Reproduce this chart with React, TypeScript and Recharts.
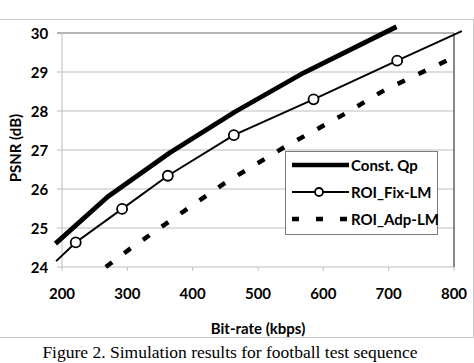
import { LineChart, Line, XAxis, YAxis, ReferenceLine, Legend } from "recharts";

// axis ticks
const X_TICKS = [200, 300, 400, 500, 600, 700, 800];
const Y_TICKS = [24, 25, 26, 27, 28, 29, 30];

// Const. Qp (thick solid line)
const QP_RATE = [190, 270, 365, 465, 570, 712];
const QP_PSNR = [24.6, 25.8, 26.93, 27.98, 28.98, 30.16];

// ROI_Fix-LM (thin line, circle markers on the inner points)
const FIX_RATE = [191, 221, 292, 362, 463, 585, 713, 812];
const FIX_PSNR = [24.15, 24.63, 25.49, 26.34, 27.38, 28.3, 29.29, 30.05];

// ROI_Adp-LM (thick dashed line)
const ADP_RATE = [267, 302, 389, 449, 541, 630, 694, 800];
const ADP_PSNR = [24.0, 24.44, 25.46, 26.15, 27.08, 27.9, 28.54, 29.38];

const SERIES_NAMES = ["Const. Qp", "ROI_Fix-LM", "ROI_Adp-LM"];

const FONT = "Lato, 'Open Sans', sans-serif";
const GRID_LEFT = 192.3; // where the y tick stubs start
const LIGHT = "#bdbdbd";
const DARK = "#6a6a6a";

const toPoints = (rates: number[], psnrs: number[]) =>
  rates.map((rate, i) => ({ rate, psnr: psnrs[i] }));

const qpData = toPoints(QP_RATE, QP_PSNR);
const fixData = toPoints(FIX_RATE, FIX_PSNR);
const adpData = toPoints(ADP_RATE, ADP_PSNR);

const tickStyle = { fill: "#000", fontSize: 15, fontWeight: 700, fontFamily: FONT };

const fixDot = (p: any) => {
  const last = FIX_RATE.length - 1;
  if (p.index === 0 || p.index === last) return <g key={`fd-${p.index}`} />;
  return (
    <circle
      key={`fd-${p.index}`}
      cx={p.cx}
      cy={p.cy}
      r={5}
      fill='#fff'
      stroke='#000'
      strokeWidth={1.8}
    />
  );
};

function LegendBox() {
  const symbols = [
    <line x1={0} y1={5} x2={57} y2={5} stroke='#000' strokeWidth={4.5} />,
    <g>
      <line x1={0} y1={5} x2={57} y2={5} stroke='#000' strokeWidth={2} />
      <circle cx={27} cy={5} r={4} fill='#fff' stroke='#000' strokeWidth={1.8} />
    </g>,
    <line
      x1={0}
      y1={5}
      x2={57}
      y2={5}
      stroke='#000'
      strokeWidth={4.5}
      strokeDasharray='7 17'
    />,
  ];
  return (
    <div
      style={{
        position: "relative",
        width: 153,
        height: 84,
        boxSizing: "border-box",
        border: "1px solid #7a7a7a",
        background: "#fff",
        fontFamily: FONT,
        fontWeight: 700,
        fontSize: 15,
        color: "#000",
      }}
    >
      {SERIES_NAMES.map((name, i) => (
        <div
          key={name}
          style={{
            position: "absolute",
            left: 6,
            top: 13 + i * 27 - 9,
            height: 18,
            display: "flex",
            alignItems: "center",
            whiteSpace: "nowrap",
          }}
        >
          <svg width={57} height={10} style={{ display: "block" }}>
            {symbols[i]}
          </svg>
          <span style={{ marginLeft: 2, lineHeight: "18px" }}>{name}</span>
        </div>
      ))}
    </div>
  );
}

export default function App() {
  return (
    <div
      style={{
        position: "absolute",
        left: 0,
        top: 0,
        width: 474,
        height: 363,
        background: "#fff",
        overflow: "hidden",
      }}
    >
      <div
        style={{
          position: "absolute",
          left: -1,
          top: 19,
          width: 475,
          height: 319,
          boxSizing: "border-box",
          border: "1px solid #c8c8c8",
        }}
      />
      <div style={{ position: "absolute", left: 0, top: 0 }}>
        <LineChart
          width={474}
          height={363}
          margin={{ top: 21.3, right: 6.93, left: 0, bottom: 28.2 }}
        >
          <XAxis
            type='number'
            dataKey='rate'
            domain={[185, 820]}
            ticks={X_TICKS}
            interval={0}
            axisLine={false}
            tickLine={false}
            tickSize={0}
            tickMargin={14}
            height={60}
            tick={tickStyle}
            label={{
              value: "Bit-rate (kbps)",
              position: "center",
              dx: -1.6,
              dy: 24,
              ...tickStyle,
            }}
          />
          <YAxis
            type='number'
            dataKey='psnr'
            domain={[23.8, 30.3]}
            ticks={Y_TICKS}
            interval={0}
            width={52.2}
            axisLine={false}
            tickLine={false}
            tickSize={0}
            tickMargin={4}
            tick={{ ...tickStyle, dy: 1 }}
            label={{
              value: "PSNR (dB)",
              angle: -90,
              position: "center",
              dx: -10,
              ...tickStyle,
            }}
          />
          {Y_TICKS.map((v) => (
            <ReferenceLine
              key={`g-${v}`}
              segment={[
                { x: GRID_LEFT, y: v },
                { x: 800, y: v },
              ]}
              stroke={v === 30 ? DARK : LIGHT}
              strokeWidth={1}
            />
          ))}
          {X_TICKS.map((v) => (
            <ReferenceLine
              key={`t-${v}`}
              segment={[
                { x: v, y: 24 },
                { x: v, y: 23.9 },
              ]}
              stroke={LIGHT}
              strokeWidth={1}
            />
          ))}
          <ReferenceLine
            segment={[
              { x: 200, y: 24 },
              { x: 200, y: 30 },
            ]}
            stroke={LIGHT}
            strokeWidth={1}
          />
          <ReferenceLine
            segment={[
              { x: 800, y: 24 },
              { x: 800, y: 30 },
            ]}
            stroke={DARK}
            strokeWidth={1.6}
          />
          <Line
            data={qpData}
            dataKey='psnr'
            name={SERIES_NAMES[0]}
            type='linear'
            stroke='#000'
            strokeWidth={4.8}
            strokeLinejoin='round'
            dot={false}
            activeDot={false}
            isAnimationActive={false}
          />
          <Line
            data={fixData}
            dataKey='psnr'
            name={SERIES_NAMES[1]}
            type='linear'
            stroke='#000'
            strokeWidth={2}
            dot={fixDot}
            activeDot={false}
            isAnimationActive={false}
          />
          <Line
            data={adpData}
            dataKey='psnr'
            name={SERIES_NAMES[2]}
            type='linear'
            stroke='#000'
            strokeWidth={4.5}
            strokeDasharray='8 15'
            dot={false}
            activeDot={false}
            isAnimationActive={false}
          />
          <Legend
            layout='horizontal'
            verticalAlign='middle'
            align='center'
            wrapperStyle={{ left: 285, top: 151, width: 153, height: 84 }}
            content={() => <LegendBox />}
          />
        </LineChart>
      </div>
      <div
        style={{
          position: "absolute",
          left: 0,
          top: 344,
          width: 460,
          textAlign: "center",
          fontFamily: "'Liberation Serif', 'Times New Roman', serif",
          fontSize: 17.5,
          lineHeight: "17.5px",
          color: "#000",
          whiteSpace: "nowrap",
        }}
      >
        Figure 2. Simulation results for football test sequence
      </div>
    </div>
  );
}
